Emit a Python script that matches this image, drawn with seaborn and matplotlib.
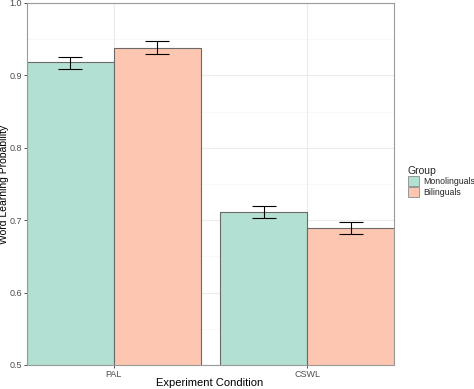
import matplotlib
matplotlib.use("Agg")
import matplotlib.pyplot as plt
import seaborn as sns
import pandas as pd
import numpy as np
from matplotlib.patches import Patch

conditions = ["PAL", "PAL", "CSWL", "CSWL"]
groups = ["Monolinguals", "Bilinguals", "Monolinguals", "Bilinguals"]
means = [0.9185, 0.938, 0.7113, 0.689]
lower = [0.9088, 0.9296, 0.7030, 0.6812]
upper = [0.9258, 0.9475, 0.7196, 0.6978]
group_order = ["Monolinguals", "Bilinguals"]
cond_order = ["PAL", "CSWL"]
palette = {"Monolinguals": "#B2E0D2", "Bilinguals": "#FDC6B0"}

df = pd.DataFrame({"Condition": conditions, "Group": groups, "Mean": means,
                   "Lower": lower, "Upper": upper})

sns.set_theme(style="white")
plt.rcParams["font.family"] = ["Liberation Sans", "DejaVu Sans"]

fig = plt.figure(figsize=(4.74, 3.89), dpi=100)
ax = fig.add_axes([27/474, 1 - 365/389, (394-27)/474, (365-3)/389])

sns.barplot(data=df, x="Condition", y="Mean", hue="Group", order=cond_order,
            hue_order=group_order, palette=palette, width=0.9, errorbar=None,
            saturation=1, edgecolor="#6A6A6A", linewidth=0.8, ax=ax, legend=False,
            zorder=2)

# error bars at bar centers
for i, g in enumerate(group_order):
    sub = df[df["Group"] == g].set_index("Condition").loc[cond_order]
    xs = np.arange(len(cond_order)) + (-0.225 if i == 0 else 0.225)
    m = sub["Mean"].values
    yerr = np.vstack([m - sub["Lower"].values, sub["Upper"].values - m])
    ax.errorbar(xs, m, yerr=yerr, fmt="none", ecolor="black", elinewidth=0.8,
                capsize=8.7, capthick=0.8, zorder=3)

ax.set_xlim(-0.45, 1.45)
ax.set_ylim(0.5, 1.0)
ax.set_yticks([0.5, 0.6, 0.7, 0.8, 0.9, 1.0])
ax.set_yticklabels(["0.5", "0.6", "0.7", "0.8", "0.9", "1.0"])
ax.set_yticks([0.55, 0.65, 0.75, 0.85, 0.95], minor=True)
ax.grid(True, which="major", color="#EBEBEB", linewidth=0.8, zorder=0)
ax.grid(True, which="minor", axis="y", color="#F5F5F5", linewidth=0.5, zorder=0)
ax.set_axisbelow(True)
for s in ax.spines.values():
    s.set_color("#9A9A9A")
    s.set_linewidth(0.8)
ax.tick_params(axis="both", which="major", length=2.5, width=0.6, color="#333333",
               labelsize=6.5, labelcolor="#4D4D4D", pad=1.2, bottom=True, left=True)
ax.tick_params(axis="both", which="minor", length=0)
ax.set_xlabel("Experiment Condition", fontsize=8, color="black")
ax.set_ylabel("Word Learning Probability", fontsize=7.5, color="black")
ax.xaxis.set_label_coords((210-27)/(394-27), -(383-365)/(365-3), transform=ax.transAxes)
ax.yaxis.set_label_coords(-(27-4.5)/(394-27), 0.5, transform=ax.transAxes)
ax.xaxis.label.set_verticalalignment("center")
ax.yaxis.label.set_verticalalignment("center")

handles = [Patch(facecolor=palette[g], edgecolor="#8A8A8A", linewidth=0.6, label=g)
           for g in group_order]
leg = fig.legend(handles=handles, title="Group", loc="upper left",
                 bbox_to_anchor=(404/474, 1 - 162/389), frameon=False,
                 fontsize=6.3, title_fontsize=7.5, handlelength=1.3, handleheight=1.4,
                 handletextpad=0.45, labelspacing=0.1, borderaxespad=0, alignment="left")

fig.savefig("out.png", dpi=100)
